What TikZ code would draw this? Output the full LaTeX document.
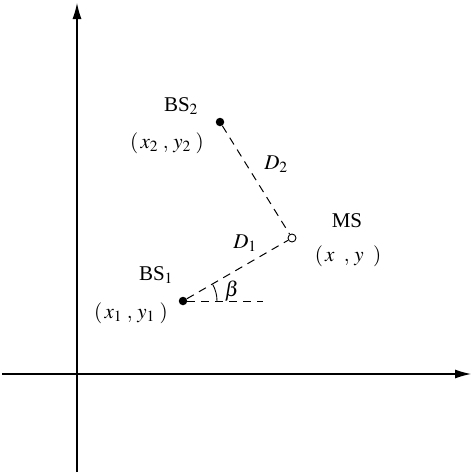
\documentclass[tikz,border=0pt]{standalone}
\usepackage{mathptmx}
\usepackage{fontspec}
\setmainfont{Liberation Serif}
\usepackage{tikz}
\usetikzlibrary{calc, arrows.meta, positioning}
\tikzset{
  axisline/.style={line width=1.1pt, -{Latex[length=16pt,width=9pt]}},
  link/.style={dash pattern=on 8pt off 6pt, line width=1pt},
  bsdot/.style={circle, fill=black, inner sep=0pt, minimum size=8.5pt},
  msdot/.style={circle, draw=black, line width=0.9pt, fill=white, inner sep=0pt, minimum size=8pt},
  lbl/.style={font=\fontsize{21}{24}\selectfont, inner sep=0pt}
}

\begin{document}
\begin{tikzpicture}[x=1pt, y=-1pt]
\useasboundingbox (0,0) rectangle (474,475);
% axes
\coordinate (xs) at (2,374);
\coordinate (xe) at (471,374);
\coordinate (ys) at (77,472);
\coordinate (ye) at (77,3);
\draw[axisline] (xs) -- (xe);
\draw[axisline] (ys) -- (ye);

% stations
\node[bsdot] (bs2) at (220,122) {};
\node[bsdot] (bs1) at (183,301) {};
\node[msdot] (ms) at (292,238) {};
\coordinate (ref) at (263,301);

\draw[link] (bs2) -- (ms);
\draw[link] (bs1) -- (ms);
\draw[link] (bs1.east) -- (ref);
\draw[line width=0.9pt] ($(bs1)+(34,0)$) arc[start angle=0, end angle=-29, radius=34];

% labels
\node[lbl] (bs2name) at (181,106) {BS$_2$};
\node[lbl] (bs2pos) at (167,143) {$(\,x_2\;,\,y_2\;)$};
\node[lbl] (bs1name) at (156,275) {BS$_1$};
\node[lbl] (bs1pos) at (131,313) {$(\,x_1\;,\,y_1\;)$};
\node[lbl] (msname) at (347,221) {MS};
\node[lbl] (mspos) at (348,256) {$(\,x\;\;,\,y\;\;)$};
\node[lbl] (d2) at (276,164) {$D_2$};
\node[lbl] (d1) at (245,243) {$D_1$};
\node[lbl] (beta) at (232,291) {$\beta$};
\end{tikzpicture}
\end{document}
